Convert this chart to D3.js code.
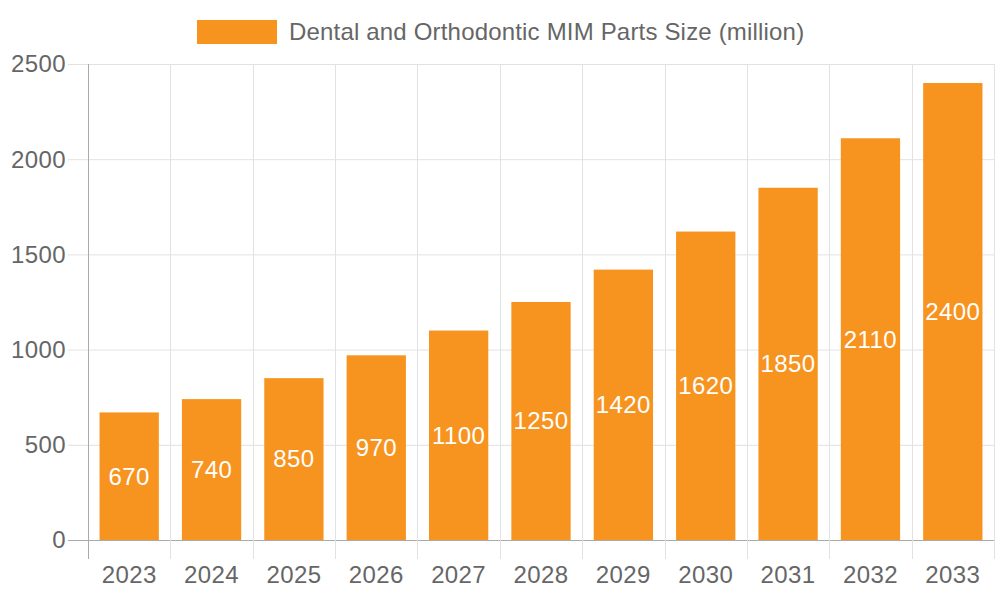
<!DOCTYPE html>
<html>
<head>
<meta charset="utf-8">
<script src="https://cdn.jsdelivr.net/npm/d3@7"></script>
<style>
  body { margin: 0; background: #fff; }
  svg { font-family: "Liberation Sans", Arial, sans-serif; }
</style>
</head>
<body>
<script>
(function (d3) {
    'use strict';

    var years = ['2023', '2024', '2025', '2026', '2027', '2028', '2029', '2030', '2031', '2032', '2033'];
    var sizes = [670, 740, 850, 970, 1100, 1250, 1420, 1620, 1850, 2110, 2400];
    var yTicks = [0, 500, 1000, 1500, 2000, 2500];
    var seriesName = 'Dental and Orthodontic MIM Parts Size (million)';

    var width = 1000, height = 600;
    var svg = d3.select('body').append('svg')
        .attr('width', width)
        .attr('height', height);

    var margin = { top: 64, right: 6, bottom: 60, left: 88 };
    var innerWidth = width - margin.left - margin.right;
    var innerHeight = height - margin.top - margin.bottom;

    var xScale = d3.scaleBand()
        .domain(years)
        .range([0, innerWidth]);

    var yScale = d3.scaleLinear()
        .domain([0, 2500])
        .range([innerHeight, 0]);

    var g = svg.append('g')
        .attr('transform', 'translate(' + margin.left + ',' + margin.top + ')');

    // grid lines horizontaal
    g.selectAll('.hgrid').data(yTicks)
        .enter().append('line')
        .attr('x1', -20).attr('x2', innerWidth)
        .attr('y1', function (d) { return yScale(d) + 0.5; })
        .attr('y2', function (d) { return yScale(d) + 0.5; })
        .attr('stroke', function (d) { return d === 0 ? '#aaa' : '#e2e2e2'; })
        .attr('stroke-width', 1);

    // grid lines verticaal
    var vLines = years.map(function (y) { return xScale(y); }).concat([innerWidth]);
    g.selectAll('.vgrid').data(vLines)
        .enter().append('line')
        .attr('x1', function (d) { return Math.round(d) + 0.5; })
        .attr('x2', function (d) { return Math.round(d) + 0.5; })
        .attr('y1', 0).attr('y2', innerHeight + 19)
        .attr('stroke', function (d, i) { return i === 0 ? '#aaa' : '#e2e2e2'; })
        .attr('stroke-width', 1);

    // y tick labels
    g.selectAll('.ylab').data(yTicks)
        .enter().append('text')
        .attr('x', -22)
        .attr('y', yScale)
        .attr('dy', '0.35em')
        .attr('text-anchor', 'end')
        .attr('fill', '#666')
        .style('font-size', '24px')
        .style('letter-spacing', '0.4px')
        .text(function (d) { return d; });

    // x tick labels
    g.selectAll('.xlab').data(years)
        .enter().append('text')
        .attr('x', function (d) { return xScale(d) + xScale.bandwidth() / 2; })
        .attr('y', innerHeight + 43)
        .attr('text-anchor', 'middle')
        .attr('fill', '#666')
        .style('font-size', '24px')
        .style('letter-spacing', '0.4px')
        .text(function (d) { return d; });

    // bars
    var barW = xScale.bandwidth() * 0.72;
    g.selectAll('rect.bar').data(sizes)
        .enter().append('rect')
        .attr('class', 'bar')
        .attr('x', function (d, i) { return xScale(years[i]) + (xScale.bandwidth() - barW) / 2; })
        .attr('y', function (d) { return yScale(d); })
        .attr('width', barW)
        .attr('height', function (d) { return innerHeight - yScale(d); })
        .attr('fill', '#f7941f');

    // waarden in de bars
    g.selectAll('text.val').data(sizes)
        .enter().append('text')
        .attr('class', 'val')
        .attr('x', function (d, i) { return xScale(years[i]) + xScale.bandwidth() / 2; })
        .attr('y', function (d) { return (yScale(d) + innerHeight) / 2; })
        .attr('dy', '0.35em')
        .attr('text-anchor', 'middle')
        .attr('fill', '#fff')
        .style('font-size', '24px')
        .style('letter-spacing', '0.4px')
        .text(function (d) { return d; });

    // legend
    var legend = svg.append('g');
    legend.append('rect')
        .attr('x', 197).attr('y', 20)
        .attr('width', 80).attr('height', 24)
        .attr('fill', '#f7941f');
    legend.append('text')
        .attr('x', 289).attr('y', 32)
        .attr('dy', '0.35em')
        .attr('fill', '#666')
        .style('font-size', '24px')
        .style('letter-spacing', '0.18px')
        .text(seriesName);

})(d3);
</script>
</body>
</html>
